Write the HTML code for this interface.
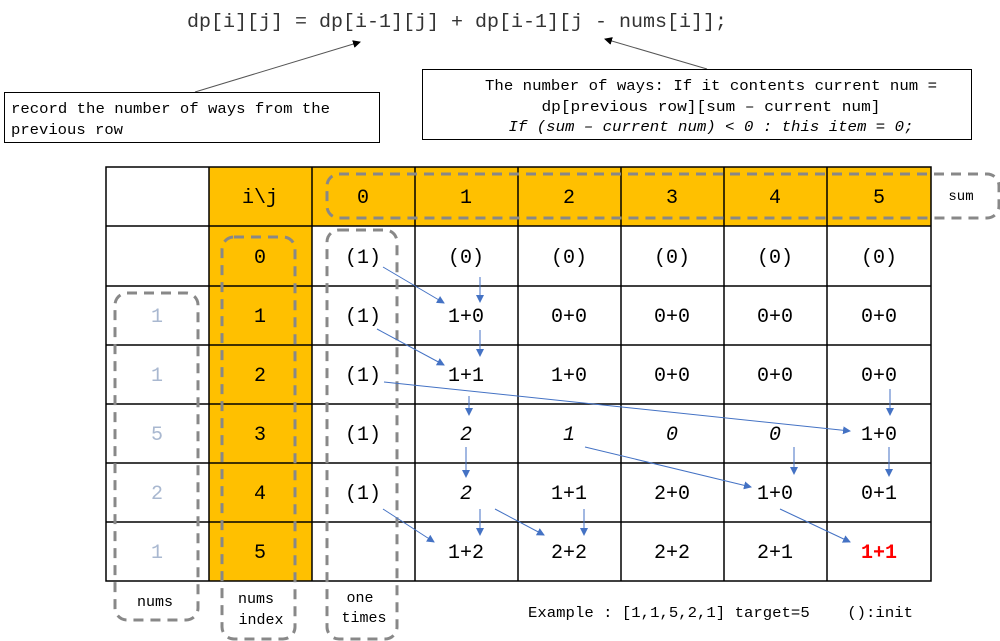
<!DOCTYPE html>
<html><head><meta charset="utf-8"><style>
html,body{margin:0;padding:0;background:#fff;}
svg{display:block;}
</style></head><body>
<svg width="1000" height="641" viewBox="0 0 1000 641" xmlns="http://www.w3.org/2000/svg">
<defs>
<marker id="ab" markerWidth="8" markerHeight="8" refX="7" refY="4" orient="auto" markerUnits="userSpaceOnUse"><path d="M0,0 L8,4 L0,8 z" fill="#4472C4"/></marker>
<marker id="ak" markerWidth="8" markerHeight="8" refX="7" refY="4" orient="auto" markerUnits="userSpaceOnUse"><path d="M0,0 L8,4 L0,8 z" fill="#000"/></marker>
</defs>
<g font-family="Liberation Mono, monospace">
<text x="457" y="27" font-size="19" text-anchor="middle" fill="#333" textLength="540" lengthAdjust="spacingAndGlyphs">dp[i][j] = dp[i-1][j] + dp[i-1][j - nums[i]];</text>
<line x1="195" y1="92" x2="360" y2="42" stroke="#555" stroke-width="1" marker-end="url(#ak)"/>
<line x1="707" y1="69" x2="605" y2="39" stroke="#555" stroke-width="1" marker-end="url(#ak)"/>
<rect x="4.5" y="92.5" width="375" height="50" fill="#fff" stroke="#000"/>
<text x="11" y="113" font-size="15" fill="#000" textLength="319" lengthAdjust="spacingAndGlyphs">record the number of ways from the</text>
<text x="11" y="134" font-size="15" fill="#000" textLength="112" lengthAdjust="spacingAndGlyphs">previous row</text>
<rect x="422.5" y="69.5" width="549" height="70" fill="#fff" stroke="#000"/>
<text x="711" y="90" font-size="15" text-anchor="middle" textLength="452" lengthAdjust="spacingAndGlyphs">The number of ways: If it contents current num =</text>
<text x="711" y="111" font-size="15" text-anchor="middle" textLength="339" lengthAdjust="spacingAndGlyphs">dp[previous row][sum – current num]</text>
<text x="711" y="131" font-size="15" text-anchor="middle" font-style="italic" textLength="405" lengthAdjust="spacingAndGlyphs">If (sum – current num) &lt; 0 : this item = 0;</text>

<rect x="209" y="167" width="722" height="59" fill="#FFC000"/>
<rect x="209" y="167" width="103" height="414" fill="#FFC000"/>
<g stroke="#000" stroke-width="1.5" fill="none">
<rect x="106" y="167" width="825" height="414"/>
<line x1="209" y1="167" x2="209" y2="581"/><line x1="312" y1="167" x2="312" y2="581"/>
<line x1="415" y1="167" x2="415" y2="581"/><line x1="518" y1="167" x2="518" y2="581"/>
<line x1="621" y1="167" x2="621" y2="581"/><line x1="724" y1="167" x2="724" y2="581"/>
<line x1="827" y1="167" x2="827" y2="581"/>
<line x1="106" y1="226" x2="931" y2="226"/><line x1="106" y1="286" x2="931" y2="286"/>
<line x1="106" y1="345" x2="931" y2="345"/><line x1="106" y1="404" x2="931" y2="404"/>
<line x1="106" y1="463" x2="931" y2="463"/><line x1="106" y1="522" x2="931" y2="522"/>
</g>
<g font-size="20" text-anchor="middle" fill="#000">
<text x="260" y="203">i\j</text>
<text x="363" y="203">0</text><text x="466" y="203">1</text><text x="569" y="203">2</text><text x="672" y="203">3</text><text x="775" y="203">4</text><text x="879" y="203">5</text>
<text x="260" y="263">0</text><text x="260" y="322">1</text><text x="260" y="381">2</text><text x="260" y="440">3</text><text x="260" y="499">4</text><text x="260" y="558">5</text>
<g fill="#A9B8D0"><text x="157" y="322">1</text><text x="157" y="381">1</text><text x="157" y="440">5</text><text x="157" y="499">2</text><text x="157" y="558">1</text></g>
<text x="363" y="263">(1)</text><text x="363" y="322">(1)</text><text x="363" y="381">(1)</text><text x="363" y="440">(1)</text><text x="363" y="499">(1)</text>
<text x="466" y="263">(0)</text><text x="569" y="263">(0)</text><text x="672" y="263">(0)</text><text x="775" y="263">(0)</text><text x="879" y="263">(0)</text>
<text x="466" y="322">1+0</text><text x="569" y="322">0+0</text><text x="672" y="322">0+0</text><text x="775" y="322">0+0</text><text x="879" y="322">0+0</text>
<text x="466" y="381">1+1</text><text x="569" y="381">1+0</text><text x="672" y="381">0+0</text><text x="775" y="381">0+0</text><text x="879" y="381">0+0</text>
<g font-style="italic"><text x="466" y="440">2</text><text x="569" y="440">1</text><text x="672" y="440">0</text><text x="775" y="440">0</text><text x="466" y="499">2</text></g>
<text x="879" y="440">1+0</text>
<text x="569" y="499">1+1</text><text x="672" y="499">2+0</text><text x="775" y="499">1+0</text><text x="879" y="499">0+1</text>
<text x="466" y="558">1+2</text><text x="569" y="558">2+2</text><text x="672" y="558">2+2</text><text x="775" y="558">2+1</text>
<text x="879" y="558" fill="#FF0000" font-weight="bold">1+1</text>
</g>
<g stroke="#888" stroke-width="3" stroke-dasharray="10,7" fill="none">
<rect x="327" y="174" width="672" height="44" rx="12"/>
<rect x="115" y="293" width="83" height="327" rx="12"/>
<rect x="222" y="237" width="73" height="402" rx="12"/>
<rect x="327" y="230" width="70" height="409" rx="12"/>
</g>
<text x="961" y="200" font-size="14" text-anchor="middle">sum</text>
<g font-size="15" text-anchor="middle">
<text x="155" y="606">nums</text>
<text x="256" y="603">nums</text><text x="261" y="624">index</text>
<text x="360" y="602">one</text><text x="364" y="622">times</text>
</g>
<text x="528" y="617" font-size="15" textLength="385" lengthAdjust="spacingAndGlyphs">Example : [1,1,5,2,1] target=5&#160;&#160;&#160;&#160;():init</text>
</g>
<g stroke="#4472C4" stroke-width="1" marker-end="url(#ab)">
<line x1="383" y1="267" x2="444" y2="303"/>
<line x1="480" y1="277" x2="480" y2="302"/>
<line x1="377" y1="329" x2="444" y2="365"/>
<line x1="480" y1="330" x2="480" y2="356"/>
<line x1="384" y1="382" x2="850" y2="431"/>
<line x1="469" y1="396" x2="469" y2="415"/>
<line x1="890" y1="389" x2="890" y2="415"/>
<line x1="466" y1="447" x2="466" y2="477"/>
<line x1="585" y1="447" x2="751" y2="487"/>
<line x1="794" y1="447" x2="794" y2="474"/>
<line x1="889" y1="447" x2="889" y2="476"/>
<line x1="383" y1="509" x2="434" y2="542"/>
<line x1="480" y1="509" x2="480" y2="535"/>
<line x1="495" y1="509" x2="544" y2="535"/>
<line x1="584" y1="509" x2="584" y2="535"/>
<line x1="780" y1="509" x2="850" y2="542"/>
</g>
</svg>
</body></html>
